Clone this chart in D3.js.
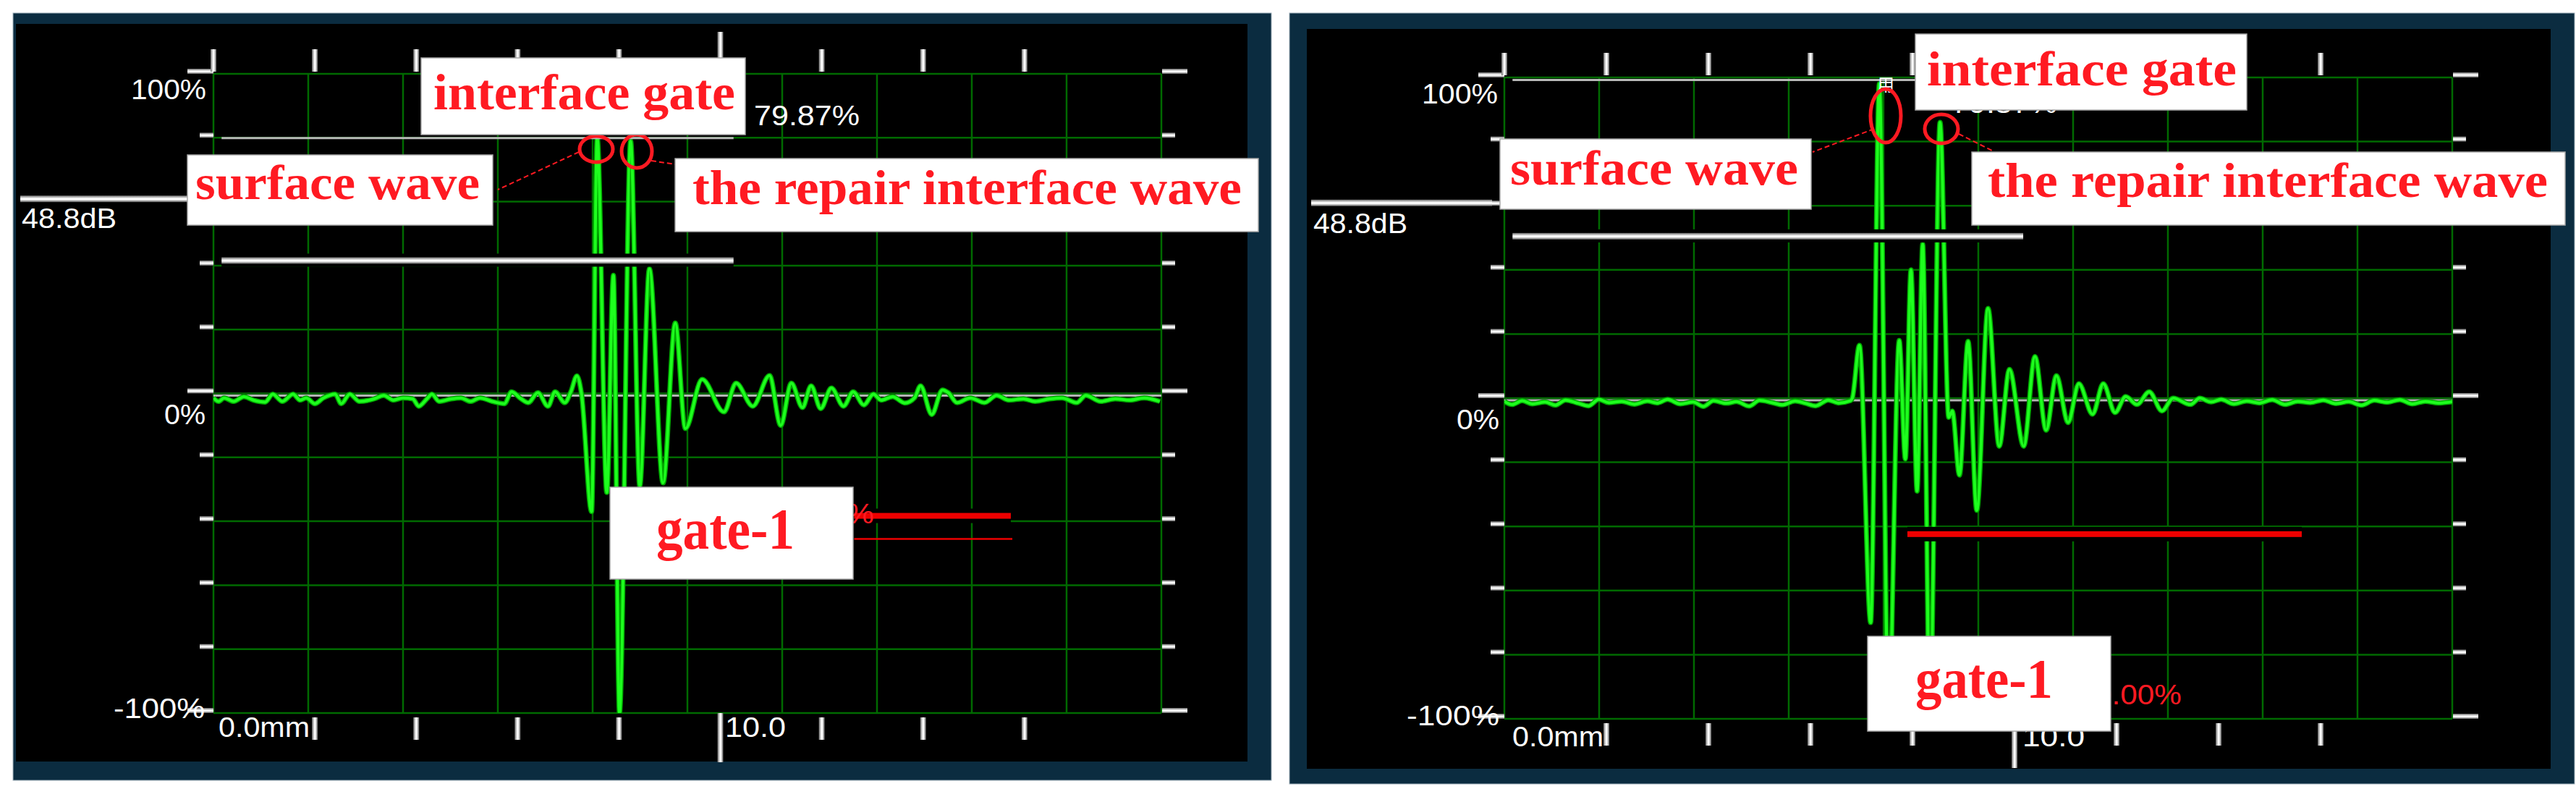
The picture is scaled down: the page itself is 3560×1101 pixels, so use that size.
<!DOCTYPE html>
<html>
<head>
<meta charset="utf-8">
<script src="https://cdn.jsdelivr.net/npm/d3@7"></script>
<style>
  body { margin: 0; background: #ffffff; }
  svg { display: block; }
</style>
</head>
<body>
<svg id="chart"></svg>
<script>
const yGridLevels = [100, 80, 60, 40, 20, 0, -20, -40, -60, -80, -100];
const yMarkLong = [100, 0, -100];
const xTickMm = [0, 2, 4, 6, 8, 10, 12, 14, 16];
const xTickLong = 10;

const gainText = "48.8dB";
const ampLabels = ["100%", "0%", "-100%"];
const distLabels = ["0.0mm", "10.0"];
const gateReading = "79.87%";
const gate1Reading = "0.00%";
const noteTexts = ["interface gate", "surface wave", "the repair interface wave", "gate-1"];

// left screen (mm, % full screen height)
const leftWaveX = [0.00, 0.10, 0.21, 0.40, 0.60, 0.79, 1.02, 1.17, 1.36, 1.57, 1.71, 1.83, 2.00, 2.17, 2.40,
  2.52, 2.69, 2.88, 3.17, 3.36, 3.55, 3.74, 3.93, 4.05, 4.21, 4.31, 4.45, 4.69, 4.88, 5.07, 5.26, 5.50,
  5.74, 5.88, 6.07, 6.21, 6.40, 6.60, 6.74, 6.93, 7.05, 7.17, 7.26, 7.46, 7.57, 7.76, 7.89, 8.01, 8.23,
  8.41, 8.60, 8.87, 9.11, 9.31, 9.64, 10.07, 10.31, 10.64, 10.97, 11.19, 11.40, 11.62, 11.79, 11.98,
  12.19, 12.43, 12.62, 12.83, 13.02, 13.17, 13.40, 13.64, 13.83, 13.95, 14.17, 14.38, 14.50, 14.67,
  14.93, 15.21, 15.45, 15.69, 15.98, 16.21, 16.50, 16.74, 17.03, 17.21, 17.50, 17.79, 18.07, 18.36, 18.67];
const leftWaveY = [-1.4, -2.5, -1.4, -2.5, -1.0, -2.1, -2.7, -0.2, -2.5, -0.2, -2.1, -1.4, -3.2, -1.4, -0.2,
  -3.2, -0.2, -2.5, -1.7, -0.6, -2.1, -1.4, -1.7, -4.0, -1.7, -0.2, -2.5, -1.7, -1.4, -2.5, -1.4, -2.5,
  -3.2, 0.5, -1.7, -2.9, 0.2, -4.0, 0.5, -2.9, 0.5, 5.5, 0, -37, 80, -31, 37, -100, 79,
  -29, 39, -28, 22, -11, 4.4, -5.8, 3.2, -4.0, 5.6, -10, 3.2, -4.4, 2.4, -4.75,
  1.7, -4.0, 0.5, -3.6, -0.2, -2.1, -1.0, -3.0, -1.4, 2.4, -6.6, 1.1, 0.2, -2.9,
  -1.4, -2.9, -0.6, -2.1, -1.7, -2.5, -1.7, -1.4, -2.9, -0.6, -2.5, -1.7, -2.1, -1.4, -2.5];

// right screen
const rightWaveX = [0.00, 0.15, 0.35, 0.55, 0.80, 1.00, 1.20, 1.45, 1.65, 1.85, 2.05, 2.30, 2.55, 2.80, 3.00,
  3.20, 3.45, 3.70, 3.90, 4.10, 4.35, 4.55, 4.80, 5.00, 5.25, 5.45, 5.70, 5.90, 6.10, 6.35, 6.55, 6.78,
  6.82, 6.96, 7.18, 7.35, 7.53, 7.74, 7.86, 7.97, 8.09, 8.20, 8.34, 8.54, 8.71, 8.78, 8.92, 9.09, 9.26,
  9.48, 9.70, 9.90, 10.18, 10.40, 10.62, 10.82, 11.05, 11.26, 11.53, 11.74, 11.97, 12.18, 12.40, 12.64,
  12.89, 13.11, 13.45, 13.63, 13.85, 14.05, 14.30, 14.55, 14.80, 15.05, 15.30, 15.55, 15.80, 16.05,
  16.30, 16.55, 16.80, 17.05, 17.30, 17.55, 17.80, 18.05, 18.30, 18.58];
const rightWaveY = [-1.0, -2.0, -0.8, -1.8, -1.2, -2.2, -0.6, -1.6, -2.4, -0.4, -1.4, -1.0, -1.9, -0.9, -1.5,
  -0.4, -1.8, -1.2, -2.6, -0.8, -1.6, -1.1, -2.5, -0.7, -1.4, -2.1, -0.9, -1.6, -2.4, -0.6, -1.5, -0.8,
  0, 16.5, -70, 98, -100, 18, -19, 40, -29, 48, -100, 86, -6, -4, -24, 17.7, -35,
  28, -15, 9, -15, 13, -10, 7, -7.6, 4.5, -5, 4.5, -4.5, 0.5, -2, 2,
  -4, 0, -2, 0, -1.2, -0.4, -1.8, -0.9, -1.5, -0.5, -2.0, -1.0, -1.4, -0.6,
  -1.7, -1.1, -2.2, -0.7, -1.3, -0.5, -1.8, -1.0, -1.5, -1.1];

// gate lines: level in %, start/end in mm
const leftGates = [
  { level: 79.87, from: 0.16, to: 10.26, kind: "thin" },
  { level: 41.7, from: 0.16, to: 10.26, kind: "pipe" },
  { level: -38.3, from: 12.64, to: 15.73, kind: "red" },
  { level: -45.5, from: 12.64, to: 15.76, kind: "redThin" }
];
const rightGates = [
  { level: 99.2, from: 0.16, to: 8.8, kind: "thin" },
  { level: 50.6, from: 0.16, to: 10.17, kind: "pipe" },
  { level: -42.4, from: 7.9, to: 15.63, kind: "red" }
];
const gainLevel = 61;

// ---- layout ----
const W = 3560, H = 1101;
const NAVY = "#0b2c40", GRID = "#006a00", RED = "#ff1a22";
const pixelFont = "'Liberation Sans', 'DejaVu Sans', sans-serif";
const serifFont = "'Liberation Serif', 'Times New Roman', serif";

const panels = [
  {
    frame: [18, 18, 1739, 1060], screen: [22, 33, 1702, 1019], plot: [295, 102, 1310, 883], xMax: 18.7,
    waveX: leftWaveX, waveY: leftWaveY, gates: leftGates,
    amp: [[-10, 35], [-11, 484], [-12, 890]], ampLen: [104, 57, 126],
    gain: [-265, 213, 131], dist: [[7, 916, 126], [707, 916, 84]],
    reading: [747, 71, 146], redReading: [913, 621, 120],
    boxes: [
      { r: [287, -22, 448, 106], t: [304, 49, 417], fs: 70 },
      { r: [-36, 112, 422, 97], t: [-25, 173, 393], fs: 68 },
      { r: [638, 117, 806, 101], t: [662, 180, 759], fs: 68 },
      { r: [548, 571, 336, 127], t: [612, 656, 191], fs: 80 }
    ],
    rings: [[529, 104, 23, 18], [585, 107, 21, 23]],
    leaders: [[505, 108, 393, 160], [605, 120, 638, 125]],
    marker: null
  },
  {
    frame: [1782, 18, 1776, 1065], screen: [1806, 40, 1719, 1022], plot: [2079, 107, 1310, 886], xMax: 18.58,
    waveX: rightWaveX, waveY: rightWaveY, gates: rightGates,
    amp: [[-9, 36], [-7, 486], [-7, 895]], ampLen: [105, 59, 128],
    gain: [-264, 215, 130], dist: [[11, 924, 126], [716, 924, 86]],
    reading: [618, 49, 146], redReading: [936, 866, 120],
    boxes: [
      { r: [568, -60, 458, 105], t: [584, 11, 428], fs: 68 },
      { r: [-6, 85, 430, 97], t: [8, 148, 398], fs: 68 },
      { r: [646, 103, 820, 101], t: [668, 165, 774], fs: 68 },
      { r: [502, 772, 336, 131], t: [568, 857, 190], fs: 78 }
    ],
    rings: [[527, 53, 21, 37], [604, 71, 23, 20]],
    leaders: [[511, 71, 426, 103], [628, 78, 676, 102]],
    marker: [515, 19]
  }
];

const svg = d3.select("#chart").attr("width", W).attr("height", H);
const defs = svg.append("defs");

// metallic "pipe" look used for the scope's white bars
function pipeGradient(id, vertical) {
  const gr = defs.append("linearGradient").attr("id", id)
    .attr("x1", 0).attr("y1", 0).attr("x2", vertical ? 0 : 1).attr("y2", vertical ? 1 : 0);
  gr.append("stop").attr("offset", "0%").attr("stop-color", "#6a6a6a");
  gr.append("stop").attr("offset", "45%").attr("stop-color", "#ffffff");
  gr.append("stop").attr("offset", "60%").attr("stop-color", "#ffffff");
  gr.append("stop").attr("offset", "100%").attr("stop-color", "#5a5a5a");
}
pipeGradient("pipeV", true);
pipeGradient("pipeH", false);

panels.forEach((p, pi) => {
  const [x0, y0, pw, ph] = p.plot;
  const g = svg.append("g");

  const x = d3.scaleLinear().domain([0, p.xMax]).range([x0, x0 + pw]);
  const y = d3.scaleLinear().domain([-100, 100]).range([y0 + ph, y0]);
  const xDiv = d3.scaleLinear().domain([0, 10]).range([x0, x0 + pw]);

  // frame + screen
  g.append("rect")
    .attr("x", p.frame[0]).attr("y", p.frame[1]).attr("width", p.frame[2]).attr("height", p.frame[3])
    .attr("fill", NAVY).attr("stroke", "#9fb0ba").attr("stroke-width", 1);
  g.append("rect")
    .attr("x", p.screen[0]).attr("y", p.screen[1]).attr("width", p.screen[2]).attr("height", p.screen[3])
    .attr("fill", "#000");

  // green graticule
  g.append("g").selectAll("line.v").data(d3.range(11)).join("line")
    .attr("x1", d => xDiv(d)).attr("x2", d => xDiv(d))
    .attr("y1", y(100)).attr("y2", y(-100))
    .attr("stroke", GRID).attr("stroke-width", 2.5);
  g.append("g").selectAll("line.h").data(yGridLevels).join("line")
    .attr("x1", x0).attr("x2", x0 + pw)
    .attr("y1", d => y(d)).attr("y2", d => y(d))
    .attr("stroke", GRID).attr("stroke-width", 2.5);

  // white side marks
  const marks = g.append("g");
  marks.selectAll("rect.l").data(yGridLevels).join("rect")
    .attr("x", d => x0 - (yMarkLong.includes(d) ? 36 : 19))
    .attr("width", d => yMarkLong.includes(d) ? 36 : 19)
    .attr("y", d => y(d) - 7).attr("height", 7)
    .attr("fill", "url(#pipeV)");
  marks.selectAll("rect.r").data(yGridLevels).join("rect")
    .attr("x", x0 + pw + 1)
    .attr("width", d => yMarkLong.includes(d) ? 35 : 18)
    .attr("y", d => y(d) - 7).attr("height", 7)
    .attr("fill", "url(#pipeV)");

  // top and bottom distance ticks
  marks.selectAll("rect.t").data(xTickMm).join("rect")
    .attr("x", d => x(d) - 4).attr("width", 8)
    .attr("y", d => y0 - (d === xTickLong ? 58 : 34))
    .attr("height", d => d === xTickLong ? 55 : 31)
    .attr("fill", "url(#pipeH)");
  marks.selectAll("rect.b").data(xTickMm.filter(d => d > 0)).join("rect")
    .attr("x", d => x(d) - 4).attr("width", 8)
    .attr("y", d => d === xTickLong ? y0 + ph : y0 + ph + 6)
    .attr("height", d => d === xTickLong ? 68 : 31)
    .attr("fill", "url(#pipeH)");

  // gain bar
  g.append("rect")
    .attr("x", x0 - 267).attr("width", 250)
    .attr("y", y(gainLevel) - 4).attr("height", 9)
    .attr("fill", "url(#pipeV)");

  // zero baseline
  g.append("line")
    .attr("x1", x0).attr("x2", x0 + pw)
    .attr("y1", y(-0.7)).attr("y2", y(-0.7))
    .attr("stroke", "#b4b4b4").attr("stroke-width", 3);

  // waveform
  const clipId = "clip" + pi;
  defs.append("clipPath").attr("id", clipId).append("rect")
    .attr("x", x0).attr("y", y0).attr("width", pw).attr("height", ph);
  const line = d3.line().x(d => x(d[0])).y(d => y(d[1])).curve(d3.curveMonotoneX);
  const pts = d3.zip(p.waveX, p.waveY);
  const wg = g.append("g").attr("clip-path", `url(#${clipId})`);
  wg.append("path").attr("d", line(pts))
    .attr("fill", "none").attr("stroke", "#00a800").attr("stroke-width", 7)
    .attr("stroke-linejoin", "round");
  wg.append("path").attr("d", line(pts))
    .attr("fill", "none").attr("stroke", "#1eff1e").attr("stroke-width", 4)
    .attr("stroke-linejoin", "round");

  // gates
  p.gates.forEach(gt => {
    const gx1 = x(gt.from), gx2 = x(gt.to), gy = y(gt.level);
    if (gt.kind === "thin") {
      g.append("line").attr("x1", gx1).attr("x2", gx2).attr("y1", gy).attr("y2", gy)
        .attr("stroke", "#b8b8b8").attr("stroke-width", 3);
    } else if (gt.kind === "pipe") {
      g.append("rect").attr("x", gx1).attr("width", gx2 - gx1).attr("y", gy - 9).attr("height", 18)
        .attr("fill", "#000");
      g.append("rect").attr("x", gx1).attr("width", gx2 - gx1).attr("y", gy - 4).attr("height", 9)
        .attr("fill", "url(#pipeV)");
    } else if (gt.kind === "red") {
      g.append("rect").attr("x", gx1).attr("width", gx2 - gx1).attr("y", gy - 10).attr("height", 20)
        .attr("fill", "#000");
      g.append("rect").attr("x", gx1).attr("width", gx2 - gx1).attr("y", gy - 4).attr("height", 8)
        .attr("fill", "#ee0000");
    } else {
      g.append("line").attr("x1", gx1).attr("x2", gx2).attr("y1", gy).attr("y2", gy)
        .attr("stroke", "#ee0000").attr("stroke-width", 2.5);
    }
  });

  // screen texts
  const txt = (tx, ty, s, anchor, len, color) => g.append("text")
    .attr("x", x0 + tx).attr("y", y0 + ty)
    .attr("text-anchor", anchor)
    .attr("textLength", len).attr("lengthAdjust", "spacingAndGlyphs")
    .attr("font-family", pixelFont).attr("font-size", 38)
    .attr("fill", color || "#ffffff")
    .text(s);
  ampLabels.forEach((s, i) => txt(p.amp[i][0], p.amp[i][1], s, "end", p.ampLen[i]));
  txt(p.gain[0], p.gain[1], gainText, "start", p.gain[2]);
  distLabels.forEach((s, i) => txt(p.dist[i][0], p.dist[i][1], s, "start", p.dist[i][2]));
  txt(p.reading[0], p.reading[1], gateReading, "start", p.reading[2]);
  txt(p.redReading[0], p.redReading[1], gate1Reading, "end", p.redReading[2], RED);

  if (p.marker) {
    g.append("text")
      .attr("x", x0 + p.marker[0]).attr("y", y0 + p.marker[1])
      .attr("font-family", "'Noto Sans CJK SC', sans-serif").attr("font-size", 24)
      .attr("fill", "#ffffff").text("用");
  }

  // annotations
  p.leaders.forEach(l => {
    g.append("line")
      .attr("x1", x0 + l[0]).attr("y1", y0 + l[1]).attr("x2", x0 + l[2]).attr("y2", y0 + l[3])
      .attr("stroke", RED).attr("stroke-width", 2).attr("stroke-dasharray", "7,4");
  });
  p.rings.forEach(r => {
    g.append("ellipse")
      .attr("cx", x0 + r[0]).attr("cy", y0 + r[1]).attr("rx", r[2]).attr("ry", r[3])
      .attr("fill", "none").attr("stroke", RED).attr("stroke-width", 5);
  });
  p.boxes.forEach((b, i) => {
    g.append("rect")
      .attr("x", x0 + b.r[0]).attr("y", y0 + b.r[1]).attr("width", b.r[2]).attr("height", b.r[3])
      .attr("fill", "#ffffff").attr("stroke", "#a8a8a8").attr("stroke-width", 1.5);
    g.append("text")
      .attr("x", x0 + b.t[0]).attr("y", y0 + b.t[1])
      .attr("textLength", b.t[2]).attr("lengthAdjust", "spacingAndGlyphs")
      .attr("font-family", serifFont).attr("font-weight", "bold").attr("font-size", b.fs)
      .attr("fill", RED)
      .text(noteTexts[i]);
  });
});
</script>
</body>
</html>
